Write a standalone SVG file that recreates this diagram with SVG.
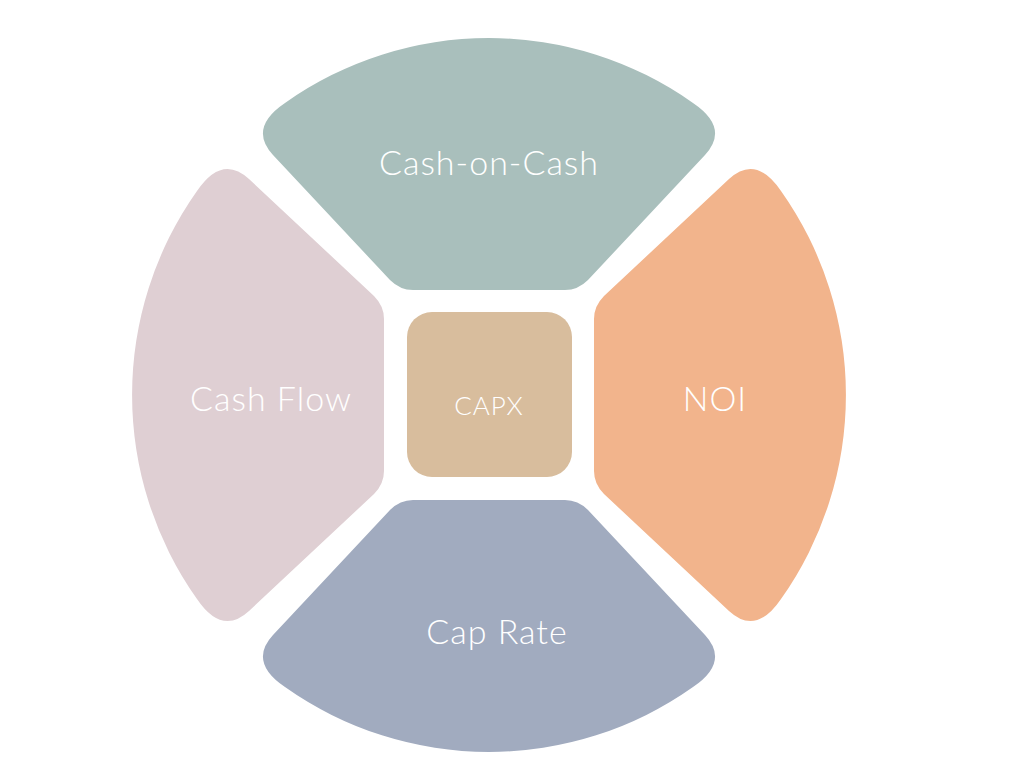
<svg xmlns="http://www.w3.org/2000/svg" width="1024" height="768" viewBox="0 0 1024 768">
<style>
text{font-family:Lato,"Open Sans","Liberation Sans",sans-serif;fill:#fff;text-anchor:middle;font-weight:300;letter-spacing:1px}
.big{font-size:34px}
</style>
<defs>
<path id="seg" d="M285,103 A353,353 0 0 1 693,103 Q730,128 705,155 L588,280 Q578,290 565,290 L413,290 Q400,290 390,280 L273,155 Q248,128 285,103 Z"/>
</defs>
<rect width="1024" height="768" fill="#fff"/>
<g id="top"><use href="#seg" fill="#A9BFBC"/><text class="big" x="489" y="175">Cash-on-Cash</text></g>
<g id="right"><use href="#seg" fill="#F2B48C" transform="rotate(90 489 395)"/><text class="big" x="715" y="411">NOI</text></g>
<g id="bottom"><use href="#seg" fill="#A1ABBF" transform="rotate(180 489 395)"/><text class="big" x="497" y="644">Cap Rate</text></g>
<g id="left"><use href="#seg" fill="#DFCFD3" transform="rotate(270 489 395)"/><text class="big" x="271" y="411">Cash Flow</text></g>
<g id="center"><rect x="407" y="312" width="165" height="165" rx="25" fill="#D8BD9D"/><text x="489" y="415" font-size="26">CAPX</text></g>
<g id="connectors"/>
</svg>
